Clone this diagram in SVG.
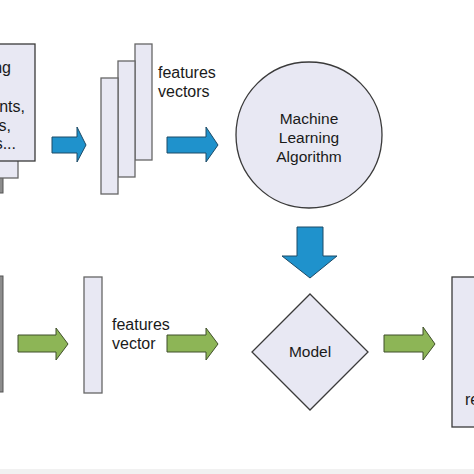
<svg xmlns="http://www.w3.org/2000/svg" width="474" height="474" viewBox="0 0 474 474">
<style>
.box{fill:#e8e8f3;stroke:#3a3a3a;stroke-width:1.3}
.boxg{fill:#e8e8f3;stroke:#666;stroke-width:1.3}
.t{font-family:"Liberation Sans",Arial,sans-serif;font-size:16px;fill:#1a1a1a}
.tc{font-family:"Liberation Sans",Arial,sans-serif;font-size:15.5px;fill:#1a1a1a;text-anchor:middle}
.blue{fill:#1f92cc;stroke:#1d4a66;stroke-width:1}
.green{fill:#8db556;stroke:#3f4f2a;stroke-width:1}
</style>
<rect width="474" height="474" fill="#ffffff"/>
<rect x="0" y="469" width="474" height="5" fill="#f1f1f1"/>

<g id="training-docs">
<rect x="-30" y="78" width="33" height="115" fill="#8c8c8c" stroke="#555" stroke-width="1"/>
<rect class="boxg" x="-30" y="61" width="48" height="117"/>
<rect class="box" x="-30" y="44" width="65" height="117"/>
<text class="t" x="11" y="73" text-anchor="end">ng</text>
<text class="t" x="25" y="112" text-anchor="end">nts,</text>
<text class="t" x="11" y="131" text-anchor="end">s,</text>
<text class="t" x="16" y="149" text-anchor="end">s...</text>
</g>

<g id="feature-vectors">
<rect class="boxg" x="135" y="44" width="17" height="116"/>
<rect class="boxg" x="118" y="61" width="17" height="116"/>
<rect class="boxg" x="101" y="78" width="17" height="116"/>
<text class="t" x="158" y="78">features</text>
<text class="t" x="158" y="97">vectors</text>
</g>

<g id="ml-algorithm">
<circle cx="309" cy="135" r="73" fill="#e8e8f3" stroke="#3a3a3a" stroke-width="1.3"/>
<text class="tc" x="309" y="124">Machine</text>
<text class="tc" x="309" y="143">Learning</text>
<text class="tc" x="309" y="162">Algorithm</text>
</g>

<g id="input">
<rect x="-20" y="276" width="23" height="116" fill="#8c8c8c" stroke="#555" stroke-width="1"/>
</g>

<g id="feature-vector">
<rect class="boxg" x="84" y="277" width="18" height="116"/>
<text class="t" x="112" y="330">features</text>
<text class="t" x="112" y="349">vector</text>
</g>

<g id="model">
<polygon points="310,294 368,352 310,410 252,352" fill="#e8e8f3" stroke="#3a3a3a" stroke-width="1.3"/>
<text class="tc" x="310" y="357">Model</text>
</g>

<g id="result">
<rect class="box" x="452" y="277" width="40" height="150"/>
<text class="t" x="465" y="405">re</text>
</g>

<g id="connectors">
<polygon class="blue" points="52,137 77,137 77,127 86,145 77,162 77,153 52,153"/>
<polygon class="blue" points="167,137 206,137 206,127 218,145 206,162 206,153 167,153"/>
<polygon class="blue" points="297,227 323,227 323,256 337,256 310,278 282,256 297,256"/>
<polygon class="green" points="18,335 56,335 56,328 68,344 56,360 56,352 18,352"/>
<polygon class="green" points="167,335 206,335 206,328 218,344 206,360 206,352 167,352"/>
<polygon class="green" points="384,335 423,335 423,327 435,344 423,360 423,352 384,352"/>
</g>
</svg>
